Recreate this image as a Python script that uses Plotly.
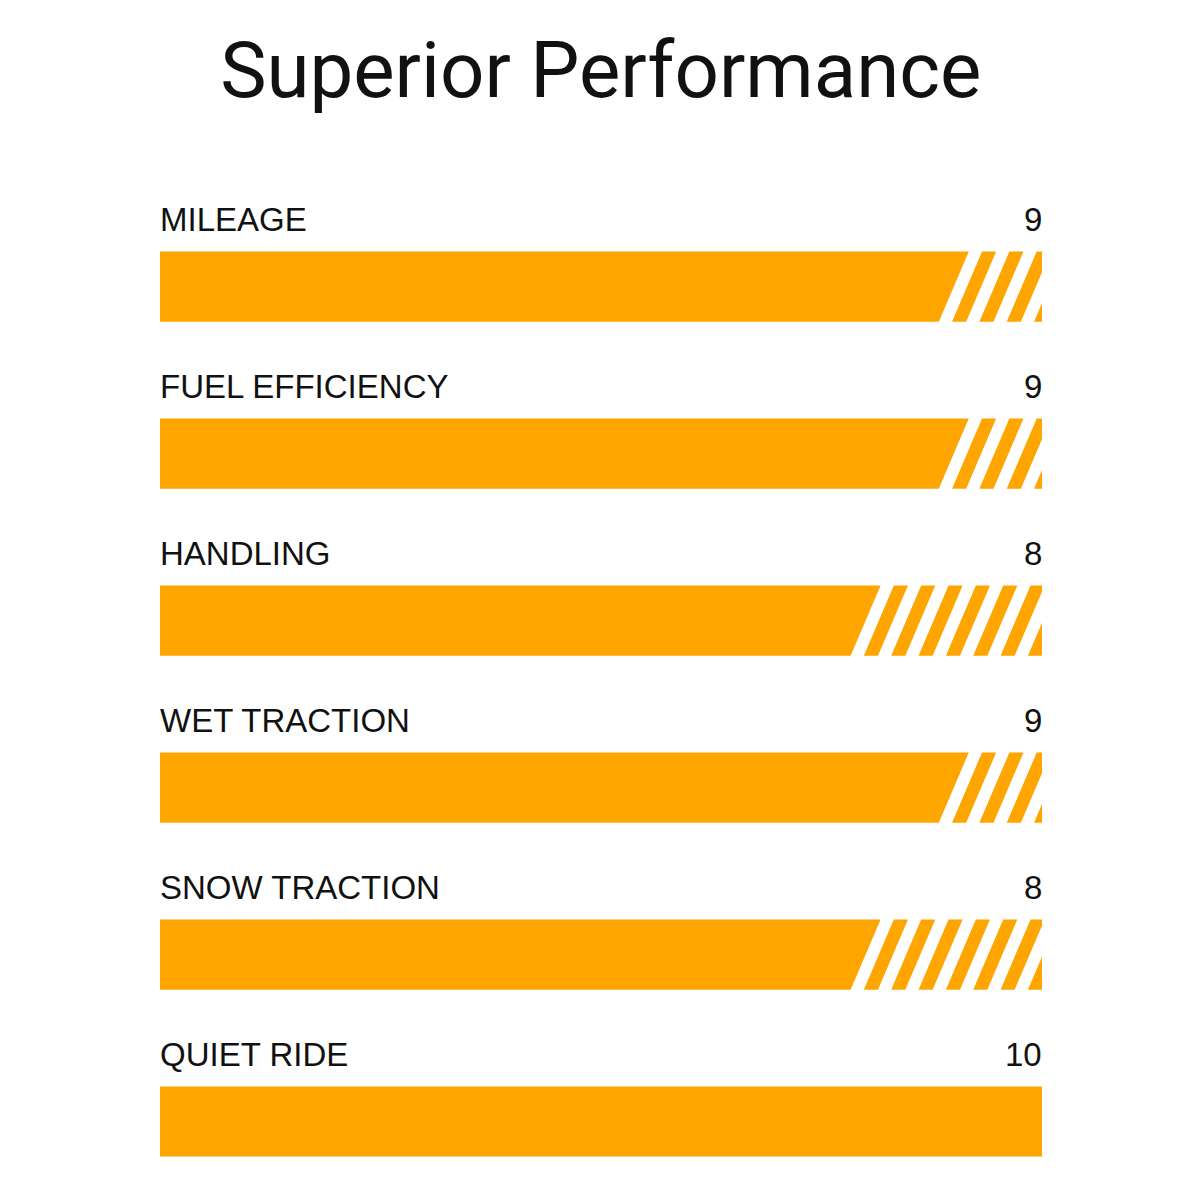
import plotly.graph_objects as go

# оцінки з картинки
categories = ["MILEAGE", "FUEL EFFICIENCY", "HANDLING", "WET TRACTION", "SNOW TRACTION", "QUIET RIDE"]
scores = [9, 9, 8, 9, 8, 10]
max_score = 10

ORANGE = "#FFA500"
HALF_H = 0.21      # половина висоти смуги (у рядках)
SLANT = 0.34       # нахил скошеного краю (у балах)
GAP = 0.15
STRIPE_W = 0.16
PERIOD = 0.31

fig = go.Figure()

for i, (name, v) in enumerate(zip(categories, scores)):
    top, bot = i - HALF_H, i + HALF_H

    # суцільна частина
    if v >= max_score:
        xs = [0, v, v, 0, 0]
    else:
        xs = [0, v + SLANT / 2, v - SLANT / 2, 0, 0]
    fig.add_trace(go.Scatter(x=xs, y=[top, top, bot, bot, top], mode="lines",
                             fill="toself", fillcolor=ORANGE, line=dict(width=0),
                             hoverinfo="skip"))

    # штриховка для решти до 10
    if v < max_score:
        sx, sy = [], []
        x0 = v + SLANT / 2 + GAP
        while x0 - SLANT < max_score:
            sx += [x0, x0 + STRIPE_W, x0 + STRIPE_W - SLANT, x0 - SLANT, x0, None]
            sy += [top, top, bot, bot, top, None]
            x0 += PERIOD
        fig.add_trace(go.Scatter(x=sx, y=sy, mode="lines", fill="toself",
                                 fillcolor=ORANGE, line=dict(width=0),
                                 hoverinfo="skip"))

    fig.add_annotation(x=0, y=i - 0.40, text=name, showarrow=False,
                       xanchor="left", yanchor="middle", xshift=-2,
                       font=dict(family="Liberation Sans, Arial", size=33, color="#111"))
    fig.add_annotation(x=max_score, y=i - 0.40, text=str(v), showarrow=False,
                       xanchor="right", yanchor="middle", xshift=2,
                       font=dict(family="Liberation Sans, Arial", size=33, color="#111"))

fig.update_layout(
    width=1200, height=1200,
    title=dict(text="Superior Performance", x=0.494, xanchor="center",
               y=1 - 62 / 1200, yref="container", yanchor="middle",
               font=dict(family="Roboto, Arial", size=78, color="#111")),
    margin=dict(l=152, r=166, t=145, b=28),
    xaxis=dict(range=[0, max_score], visible=False, fixedrange=True),
    yaxis=dict(range=[5.35, -0.8], visible=False, fixedrange=True),
    plot_bgcolor="white", paper_bgcolor="white",
    showlegend=False,
)

fig.write_html("out.html")
